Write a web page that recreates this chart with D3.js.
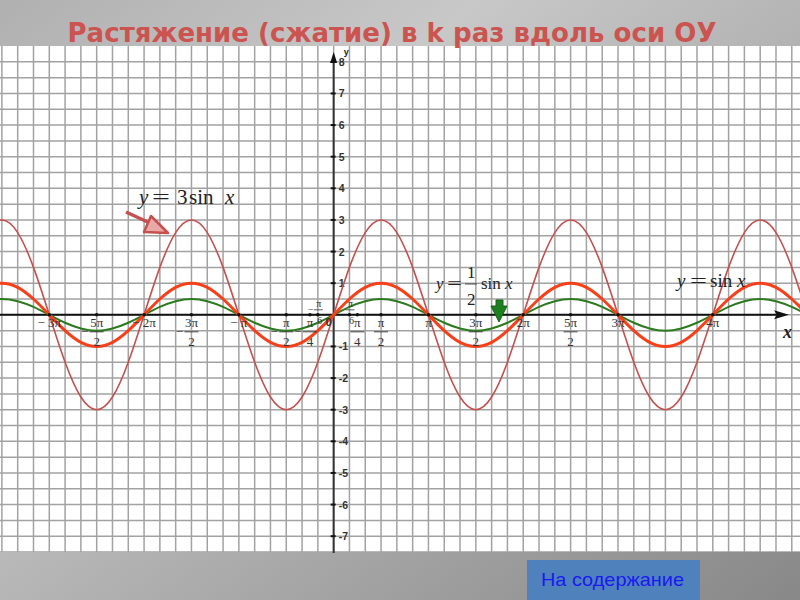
<!DOCTYPE html>
<html><head><meta charset="utf-8">
<script src="https://cdn.jsdelivr.net/npm/d3@7"></script>
<style>html,body{margin:0;padding:0;background:#fff;}svg{display:block;}</style>
</head><body>
<svg id="chart" width="800" height="600"></svg>
<script>
// ---------- DATA ----------
const title = "Растяжение (сжатие) в k раз вдоль оси ОУ";
const buttonLabel = "На содержание";
// sample positions, in units of π/6 (x = -4π … 5π)
const xSteps = d3.range(-24, 31);
// y = sin x read at each π/6 grid line
const ySin = [0,0.5,0.87,1,0.87,0.5,0,-0.5,-0.87,-1,-0.87,-0.5,
              0,0.5,0.87,1,0.87,0.5,0,-0.5,-0.87,-1,-0.87,-0.5,
              0,0.5,0.87,1,0.87,0.5,0,-0.5,-0.87,-1,-0.87,-0.5,
              0,0.5,0.87,1,0.87,0.5,0,-0.5,-0.87,-1,-0.87,-0.5,
              0,0.5,0.87,1,0.87,0.5,0];
// y = 3 sin x
const y3Sin = [0,1.5,2.6,3,2.6,1.5,0,-1.5,-2.6,-3,-2.6,-1.5,
               0,1.5,2.6,3,2.6,1.5,0,-1.5,-2.6,-3,-2.6,-1.5,
               0,1.5,2.6,3,2.6,1.5,0,-1.5,-2.6,-3,-2.6,-1.5,
               0,1.5,2.6,3,2.6,1.5,0,-1.5,-2.6,-3,-2.6,-1.5,
               0,1.5,2.6,3,2.6,1.5,0];
// y = 1/2 sin x
const yHalfSin = [0,0.25,0.43,0.5,0.43,0.25,0,-0.25,-0.43,-0.5,-0.43,-0.25,
                  0,0.25,0.43,0.5,0.43,0.25,0,-0.25,-0.43,-0.5,-0.43,-0.25,
                  0,0.25,0.43,0.5,0.43,0.25,0,-0.25,-0.43,-0.5,-0.43,-0.25,
                  0,0.25,0.43,0.5,0.43,0.25,0,-0.25,-0.43,-0.5,-0.43,-0.25,
                  0,0.25,0.43,0.5,0.43,0.25,0];
// x tick labels (value in units of π)
const xTickValues = [-3,-2.5,-2,-1.5,-1,-0.5,-0.25,-1/6,0,1/6,0.25,0.5,1,1.5,2,2.5,3,4];
const xTickNum = ["3π","5π","2π","3π","π","π","π","π","0","π","π","π","π","3π","2π","5π","3π","4π"];
const xTickDen = ["","2","","2","","2","4","6","","6","4","2","","2","","2","",""];
// y tick labels
const yTickValues = [-7,-6,-5,-4,-3,-2,-1,1,2,3,4,5,6,7,8];

// ---------- LAYOUT ----------
const PI = Math.PI;
const svg = d3.select("#chart");
const defs = svg.append("defs");
const bg = defs.append("linearGradient").attr("id","bg")
  .attr("x1","0%").attr("y1","0%").attr("x2","100%").attr("y2","100%");
bg.append("stop").attr("offset","0%").attr("stop-color","#b0b0b0");
bg.append("stop").attr("offset","30%").attr("stop-color","#c8c8c8");
bg.append("stop").attr("offset","100%").attr("stop-color","#888888");
svg.append("rect").attr("width",800).attr("height",600).attr("fill","url(#bg)");

const plot = {left:0, right:800, top:46, bottom:552};
const x = d3.scaleLinear().domain([-3.52*PI, 4.92*PI]).range([plot.left, plot.right]);
const y = d3.scaleLinear().domain([-7.5, 8.5]).range([plot.bottom, plot.top]);

defs.append("clipPath").attr("id","clip").append("rect")
  .attr("x",plot.left).attr("y",plot.top).attr("width",plot.right-plot.left).attr("height",plot.bottom-plot.top);

svg.append("rect").attr("x",plot.left).attr("y",plot.top)
  .attr("width",plot.right-plot.left).attr("height",plot.bottom-plot.top).attr("fill","#ffffff");

// grid
const grid = svg.append("g").attr("clip-path","url(#clip)");
const vGrid = d3.range(-21, 30).map(k => k*PI/6);
const hGrid = d3.range(-15, 17).map(k => k/2);
grid.selectAll("line.v").data(vGrid).join("line")
  .attr("x1",d=>x(d)).attr("x2",d=>x(d)).attr("y1",plot.top).attr("y2",plot.bottom)
  .attr("stroke","#a2a2a2").attr("stroke-width",1.5);
grid.selectAll("line.h").data(hGrid).join("line")
  .attr("y1",d=>y(d)).attr("y2",d=>y(d)).attr("x1",plot.left).attr("x2",plot.right)
  .attr("stroke","#a2a2a2").attr("stroke-width",1.5);

// axes
const x0 = x(0), y0 = y(0);
svg.append("line").attr("x1",plot.left).attr("x2",782).attr("y1",y0).attr("y2",y0)
  .attr("stroke","#111").attr("stroke-width",2);
svg.append("path").attr("d",`M789,${y0} L774,${y0-4.5} L777,${y0} L774,${y0+4.5} Z`).attr("fill","#111");
svg.append("line").attr("x1",x0).attr("x2",x0).attr("y1",plot.bottom+1).attr("y2",58)
  .attr("stroke","#333").attr("stroke-width",2);
svg.append("path").attr("d",`M${x0},52 L${x0-3.5},63 L${x0+3.5},63 Z`).attr("fill","#111");
svg.append("text").attr("x",x0+10).attr("y",55).attr("font-family","Liberation Sans")
  .attr("font-size",9).attr("font-weight","bold").attr("fill","#222").text("y");
svg.append("text").attr("x",783).attr("y",338).attr("font-family","Liberation Serif")
  .attr("font-style","italic").attr("font-weight","bold").attr("font-size",18).attr("fill","#222").text("x");

// y ticks
const yt = svg.append("g");
yt.selectAll("line").data(yTickValues).join("line")
  .attr("x1",x0-3).attr("x2",x0+2).attr("y1",d=>y(d)).attr("y2",d=>y(d))
  .attr("stroke","#111").attr("stroke-width",2);
yt.selectAll("text").data(yTickValues).join("text")
  .attr("x",x0+5).attr("y",d=>y(d)+4)
  .attr("font-family","Liberation Sans").attr("font-weight","bold").attr("font-size",10.5)
  .attr("fill","#333").text(d=>d<0?"-"+Math.abs(d):d);

// curves
const line = d3.line().x(d=>x(d[0]*PI/6)).y(d=>y(d[1])).curve(d3.curveNatural);
const curves = svg.append("g").attr("clip-path","url(#clip)");
curves.append("path").attr("d",line(xSteps.map((k,i)=>[k,y3Sin[i]])))
  .attr("fill","none").attr("stroke","#c4514e").attr("stroke-width",1.6);
curves.append("path").attr("d",line(xSteps.map((k,i)=>[k,yHalfSin[i]])))
  .attr("fill","none").attr("stroke","#2c7a1e").attr("stroke-width",2);
curves.append("path").attr("d",line(xSteps.map((k,i)=>[k,ySin[i]])))
  .attr("fill","none").attr("stroke","#f5401a").attr("stroke-width",3);

// x tick dots
svg.append("g").selectAll("circle").data(xTickValues.filter(v=>v!==0)).join("circle")
  .attr("cx",d=>x(d*PI)).attr("cy",y0).attr("r",1.8).attr("fill","#111");

// x tick labels
const xl = svg.append("g").attr("font-family","Liberation Serif").attr("font-size",13).attr("fill","#333");
xTickValues.forEach((v,i)=>{
  const cx = x(v*PI);
  const neg = v < 0;
  const den = xTickDen[i];
  if (!den) {
    if (v === 0) {
      xl.append("text").attr("x",cx-5).attr("y",y0+11).attr("text-anchor","middle")
        .attr("font-family","Liberation Sans").attr("font-weight","bold").attr("font-size",11).text("0");
    } else {
      xl.append("text").attr("x",cx).attr("y",y0+12).attr("text-anchor","middle")
        .text((neg?"− ":"")+xTickNum[i]);
    }
  } else if (den === "6") {
    const g = xl.append("g").attr("font-size",10);
    g.append("text").attr("x",cx+1).attr("y",y0-8).attr("text-anchor","middle").text(xTickNum[i]);
    g.append("line").attr("x1",cx-4).attr("x2",cx+5).attr("y1",y0-5).attr("y2",y0-5)
      .attr("stroke","#333").attr("stroke-width",0.8);
    g.append("text").attr("x",cx+2).attr("y",y0+9).attr("text-anchor","middle").text(den);
    if (neg) g.append("text").attr("x",cx-7).attr("y",y0-2).attr("text-anchor","middle").text("−");
  } else {
    const nY = y0+12, bY = y0+17, dY = y0+31;
    xl.append("text").attr("x",cx).attr("y",nY).attr("text-anchor","middle").text(xTickNum[i]);
    xl.append("line").attr("x1",cx-7).attr("x2",cx+7).attr("y1",bY).attr("y2",bY)
      .attr("stroke","#333").attr("stroke-width",0.9);
    xl.append("text").attr("x",cx).attr("y",dY).attr("text-anchor","middle").text(den);
    if (neg) xl.append("text").attr("x",cx-12).attr("y",bY+4).attr("text-anchor","middle").text("−");
  }
});

// annotations
const ann = svg.append("g").attr("font-family","Liberation Serif").attr("fill","#222");
function mathText(parts, size){
  parts.forEach(p=>{
    const t = ann.append("text").attr("x",p[1]).attr("y",p[2]).attr("font-size",size)
      .attr("font-style",p[3]?"italic":"normal").text(p[0]);
    if (p[4]) t.attr("textLength",p[4]).attr("lengthAdjust","spacingAndGlyphs");
  });
}
mathText([["y",139,204,true],["=",152,204,false,18],["3",177,204,false],["sin",189,204,false],["x",225,204,true]],21);
mathText([["y",436,289,true],["=",447,289,false,15],["1",467,278,false],["2",467,305,false],["sin",481,289,false],["x",505,289,true]],17);
ann.append("line").attr("x1",465).attr("x2",477).attr("y1",284).attr("y2",284).attr("stroke","#222").attr("stroke-width",0.8);
mathText([["y",677,287,true],["=",690,287,false,17],["sin",710,287,false],["x",737,287,true]],19);

// arrows
svg.append("line").attr("x1",126).attr("y1",212).attr("x2",152).attr("y2",224)
  .attr("stroke","#c4514e").attr("stroke-width",3.5);
svg.append("path").attr("d","M168,233 L151,216 L144,232 Z")
  .attr("fill","#e9a9a7").attr("stroke","#c4514e").attr("stroke-width",2.5).attr("stroke-linejoin","round");
svg.append("path").attr("d","M496,300 L503,300 L503,306 L507,306 L499,322 L491,306 L496,306 Z")
  .attr("fill","#1e7f1e").attr("stroke","#166016").attr("stroke-width",1);

// title
svg.append("text").attr("x",392).attr("y",42).attr("text-anchor","middle")
  .attr("font-family","DejaVu Sans").attr("font-weight","bold").attr("font-size",27).attr("fill","#cc5450")
  .attr("textLength",649).attr("lengthAdjust","spacingAndGlyphs").text(title);

// button
svg.append("rect").attr("x",527).attr("y",560).attr("width",173).attr("height",40).attr("fill","#4f81bd");
svg.append("text").attr("x",541).attr("y",586).attr("font-family","Liberation Sans").attr("font-size",19)
  .attr("fill","#1a1af0").attr("textLength",143).attr("lengthAdjust","spacingAndGlyphs").text(buttonLabel);
</script>
</body></html>
